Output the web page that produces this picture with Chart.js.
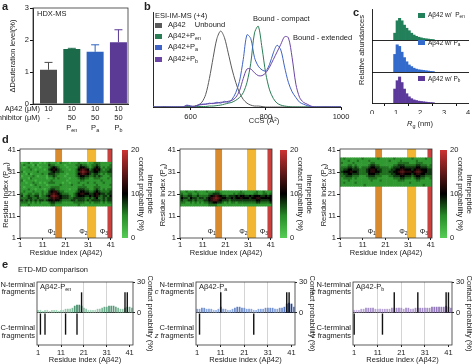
<!DOCTYPE html>
<html><head><meta charset="utf-8">
<script src="https://cdn.jsdelivr.net/npm/chart.js@4.4.1/dist/chart.umd.min.js"></script>
<style>
body{margin:0;background:#fff}
#fig{position:relative;width:474px;height:364px;overflow:hidden;background:#fff;font-family:'Liberation Sans',Arial,sans-serif;color:#222;font-size:7px}
#fig canvas{position:absolute}
.t{position:absolute;white-space:nowrap;line-height:1}
.t sub{font-size:72%;vertical-align:-1.5px;line-height:0}
.sq{position:absolute}
</style></head><body><div id="fig"></div>
<script>
// ---------- data ----------
// a: HDX-MS
const hdxConc = ['10', '10', '10', '10'];
const hdxInhib = ['-', '50', '50', '50'];
const hdxInhibName = ['', 'en', 'a', 'b'];
const hdxVals = [1.07, 1.72, 1.63, 1.93];
const hdxErr = [0.23, 0.02, 0.22, 0.39];

// b: ESI-IM-MS arrival (CCS) distributions
const ccsX = [500,510,520,530,540,550,560,570,580,590,600,610,620,630,640,650,660,670,680,690,700,710,720,730,740,750,760,770,780,790,800,810,820,830,840,850,860,870,880,890,900,910,920,930,940,950,960,970,980,990,1000];
const ccsTicks = [600, 800, 1000];
const ccsAb = [0,0,0,0.005,0,0,0,0,0,0.005, 0.005,0.01,0.02,0.05,0.13,0.3,0.52,0.72,0.8,0.73, 0.57,0.4,0.26,0.15,0.08,0.04,0.02,0.01,0.01,0.005, 0,0,0,0,0,0,0,0,0,0, 0,0,0,0,0,0,0,0,0,0, 0];
const ccsEn = [0,0,0,0,0,0,0,0,0,0.005, 0.005,0.005,0.005,0.005,0.005,0.01,0.01,0.015,0.02,0.03, 0.04,0.05,0.07,0.1,0.15,0.26,0.46,0.78,0.85,0.62, 0.35,0.18,0.09,0.04,0.02,0.01,0.005,0,0,0, 0,0,0,0,0,0,0,0,0,0, 0];
const ccsA = [0,0,0,0,0,0,0,0,0,0.02, 0.01,0.005,0.02,0.03,0.03,0.04,0.035,0.05,0.04,0.06, 0.05,0.08,0.15,0.27,0.5,0.76,0.72,0.52,0.43,0.39, 0.38,0.45,0.57,0.65,0.6,0.42,0.26,0.16,0.1,0.05, 0.03,0.015,0.005,0,0,0,0,0,0,0, 0];
const ccsB = [0,0,0,0,0,0,0,0,0,0.015, 0.01,0.005,0.02,0.025,0.03,0.035,0.04,0.04,0.05,0.05, 0.06,0.07,0.1,0.17,0.3,0.4,0.4,0.36,0.33,0.33, 0.36,0.42,0.5,0.58,0.66,0.74,0.73,0.52,0.24,0.1, 0.05,0.03,0.01,0,0,0,0,0,0,0, 0];

// c: Rg histograms
const rgBins = [0.95,1.05,1.15,1.25,1.35,1.45,1.55,1.65,1.75,1.85,1.95,2.05,2.15,2.25,2.35,2.45,2.55];
const rgEn = [0.22,0.62,0.70,0.62,0.48,0.38,0.30,0.22,0.16,0.12,0.09,0.07,0.05,0.04,0.03,0.02,0.015];
const rgA  = [0.55,0.85,0.80,0.62,0.45,0.32,0.22,0.17,0.12,0.09,0.07,0.06,0.05,0.04,0.03,0.02,0.015];
const rgB  = [0.45,0.72,0.84,0.66,0.45,0.30,0.20,0.14,0.10,0.08,0.06,0.05,0.04,0.03,0.02,0.015,0.01];

// d: interpeptide contact maps, one string per peptide residue (top row first),
// one digit per Aβ42 residue 1..42, digit = contact probability / 2 (%)
const resTicks = [1, 11, 21, 31, 41];
const phiStart = [17, 31, 40];
const phiEnd = [19, 34, 42];
const enTop = 35;
const enRows = [
  '2122312221 2123222132 2212223222 1223332222 22',
  '1232221312 2224332222 1222233433 2233432222 33',
  '2212322221 2223454322 2122224554 3234542323 33',
  '1222232122 2124565432 2212235676 5345653233 43',
  '2312222232 2223454433 2222234787 6445543334 44',
  '2221312222 3224443322 2122235676 5434432323 33',
  '2122223212 2213343222 1222234554 4334343222 33',
  '1222132222 2212232322 2212223443 3223332223 22',
  '2312222122 2222322222 2122222332 2222223222 23',
  '2221223221 2123332221 2212223222 3223222322 22',
  '1222212322 2212222232 2223222232 2222322222 32',
  '2212222223 2222333322 2222223333 2223332222 23',
  '2222322122 2123443322 2212224443 3223432323 33',
  '2232223222 3224566433 2222234554 4334543333 44',
  '3322332332 3234676543 3322345665 5445654434 44',
  '3423433442 3345787654 4432345554 4545643443 54',
  '3333443343 3334676654 4433444443 3434533434 44',
  '4434343434 4345565543 3334434443 4344443434 44',
  '2333232323 2223443332 2222333332 2323332323 33',
  '2222322222 2222332222 2222223222 2222222222 22'
];
const aTop = 22;
const aRows = [
  '2223222322 2232223322 2222222322 2222322322 22',
  '2322332232 2223344432 2222323332 2223322332 33',
  '3433443343 3334567654 4344454554 4545554454 55',
  '3544354434 4345678765 5445455655 5455665555 56',
  '3433443433 3445677654 4434444444 4444554444 55',
  '2332232323 2334455443 2323323333 3333443333 44',
  '2222222222 2223333222 2222222222 2222222222 23'
];
const bTop = 37;
const bRows = [
  '2232222222 3222222322 2222322222 2232222232 22',
  '2222322232 2223222222 2232222322 2222322222 22',
  '2322223222 2222332222 2222223333 3222333222 22',
  '2222332322 2223443322 2222334443 3333443332 33',
  '2333443432 3334554433 3323444554 4444554443 33',
  '3344554443 3345665443 3334455665 5545665554 44',
  '3455565543 3345665543 3344556776 6656776554 44',
  '3344554443 3335554433 3334455665 5545665544 44',
  '2334443332 2234443332 2233444554 4434554433 33',
  '2233332322 2223333222 2222333443 3323443322 33',
  '2222322222 2222322232 2222223332 2222332222 22',
  '2232222322 2222222222 2222222222 2322222222 22',
  '2222222222 2322222222 2222222222 2222222322 22'
];

// e: ETD fragments vs MD contact probability
const resLabels = ['1','2','3','4','5','6','7','8','9','10','11','12','13','14','15','16','17','18','19','20','21','22','23','24','25','26','27','28','29','30','31','32','33','34','35','36','37','38','39','40','41','42'];
const contactEn = [3,3,2,3,3,2,3,3,3,2, 3,3,4,4,4,5,7,8,8,7, 5,4,3,3,3,3,4,4,5,6, 6,7,7,7,6,5,4,4,5,6, 6,5];
const contactA  = [4,4,5,5,4,4,4,3,3,4, 6,4,4,3,3,4,5,6,6,5, 5,4,4,4,3,3,4,4,4,5, 5,5,5,4,4,5,5,6,9,10, 9,6];
const contactB  = [3,3,3,4,4,5,5,5,5,4, 4,4,4,4,4,4,5,5,5,5, 5,4,5,5,4,4,5,5,5,5, 5,5,5,6,6,6,6,6,6,7, 6,5];
const cFragEn = [20, 39, 40], zFragEn = [2, 4, 13, 18];
const cFragA = [11, 39, 40], zFragA = [2, 25];
const cFragB = [18, 28, 40, 41], zFragB = [1, 13];
const cLevel = 20, zLevel = -21;

// ---------- setup ----------
const FONT = "'Liberation Sans', Arial, sans-serif";
Chart.defaults.font.family = FONT;
Chart.defaults.font.size = 7;
Chart.defaults.color = '#222';
const fig = document.getElementById('fig');
const PAD = 14;

function makeChart(area, ax, cfg) {
  const [L, T, R, B] = area;
  const l = ax.l || 0, r = ax.r || 0, b = ax.b || 0;
  const cv = document.createElement('canvas');
  const w = R - L + l + r + 2 * PAD, h = B - T + b + 2 * PAD;
  cv.width = w; cv.height = h;
  cv.style.left = (L - l - PAD) + 'px'; cv.style.top = (T - PAD) + 'px';
  cv.style.width = w + 'px'; cv.style.height = h + 'px';
  fig.appendChild(cv);
  cfg.options = Object.assign({
    responsive: false, animation: false, devicePixelRatio: 1, events: [],
    layout: { padding: PAD },
    plugins: { legend: { display: false }, tooltip: { enabled: false } }
  }, cfg.options);
  const c = new Chart(cv, cfg);
  c.$ox = L - l - PAD; c.$oy = T - PAD;
  return c;
}
const fitW = w => s => { s.width = w; };
const fitH = h => s => { s.height = h; };
const axisLine = { display: true, color: '#111', width: 0.9 };
const noGrid = { display: false, drawTicks: false };
const clear = 'rgba(0,0,0,0)';

const framePlugin = { id: 'frame', afterDatasetsDraw(chart) {
  const { ctx, chartArea: a } = chart;
  ctx.save(); ctx.strokeStyle = '#333'; ctx.lineWidth = 0.8;
  ctx.strokeRect(a.left, a.top, a.right - a.left, a.bottom - a.top);
  ctx.restore();
}};

function hex(h) { return [1, 3, 5].map(i => parseInt(h.slice(i, i + 2), 16)); }
function mix(c1, c2, t) {
  t = Math.max(0, Math.min(1, t));
  const a = hex(c1), b = hex(c2);
  return 'rgb(' + a.map((v, i) => Math.round(v + (b[i] - v) * t)).join(',') + ')';
}

// ---------- a ----------
const hdxColors = ['#4c4c4c', '#1b6b4b', '#2e63c0', '#5a3a95'];
const errPlugin = { id: 'err', afterDatasetsDraw(chart) {
  const y = chart.scales.y, ctx = chart.ctx;
  chart.getDatasetMeta(0).data.forEach((bar, i) => {
    const top = y.getPixelForValue(hdxVals[i] + hdxErr[i]);
    ctx.save(); ctx.strokeStyle = hdxColors[i]; ctx.lineWidth = 1;
    ctx.beginPath();
    ctx.moveTo(bar.x, bar.y); ctx.lineTo(bar.x, top);
    ctx.moveTo(bar.x - 4, top); ctx.lineTo(bar.x + 4, top);
    ctx.stroke(); ctx.restore();
  });
}};
const chartA = makeChart([33, 8, 128, 104], { l: 33, b: 24 }, {
  type: 'bar',
  data: { datasets: [{ data: hdxVals.map((v, i) => ({ x: i, y: v })), backgroundColor: hdxColors, barPercentage: 0.73, categoryPercentage: 1 }] },
  options: { scales: {
    x: { type: 'linear', min: -0.665, max: 3.41, offset: false, afterFit: fitH(24),
      afterBuildTicks: s => { s.ticks = hdxVals.map((_, i) => ({ value: i })); },
      ticks: { autoSkip: false, maxRotation: 0, padding: 0, font: { size: 7.5 }, callback: v => [hdxConc[v], hdxInhib[v]] },
      grid: noGrid, border: axisLine },
    y: { min: 0, max: 3, afterFit: fitW(33), ticks: { stepSize: 1, padding: 1, font: { size: 7.5 } },
      grid: { drawOnChartArea: false, tickLength: 3, color: '#111' }, border: axisLine,
      title: { display: true, text: 'ΔDeuteration level(%)', padding: { top: 8, bottom: 0 }, font: { size: 7.5 } } }
  }},
  plugins: [framePlugin, errPlugin]
});

// ---------- b ----------
const ccsSeries = [
  { name: 'Aβ42', vals: ccsAb, color: '#5a5a5a' },
  { name: 'Aβ42+P<sub>en</sub>', vals: ccsEn, color: '#2a7d55' },
  { name: 'Aβ42+P<sub>a</sub>', vals: ccsA, color: '#3f63c6' },
  { name: 'Aβ42+P<sub>b</sub>', vals: ccsB, color: '#6b45a5' }
];
makeChart([153, 12, 341, 107], { b: 12 }, {
  type: 'line',
  data: { datasets: ccsSeries.slice().reverse().map(s => ({
    data: ccsX.map((x, i) => ({ x, y: s.vals[i] })), borderColor: s.color, borderWidth: 1, pointRadius: 0, tension: 0.3, fill: false })) },
  options: { scales: {
    x: { type: 'linear', min: 500, max: 1000, afterFit: fitH(12),
      afterBuildTicks: s => { s.ticks = ccsTicks.map(v => ({ value: v })); },
      ticks: { padding: 2, font: { size: 7.5 }, callback: v => String(v) },
      grid: { drawOnChartArea: false, tickLength: 3, color: '#111' }, border: axisLine },
    y: { min: 0, max: 1, afterFit: fitW(0), ticks: { display: false }, grid: noGrid, border: axisLine }
  }}
});

// ---------- c ----------
const rgSets = [
  { vals: rgEn, color: '#22805a', name: 'Aβ42 w/&nbsp; P<sub>en</sub>', area: [372, 9, 468, 40] },
  { vals: rgA, color: '#336bcc', name: 'Aβ42 w/ P<sub>a</sub>', area: [372, 40, 468, 72] },
  { vals: rgB, color: '#5c3a9c', name: 'Aβ42 w/ P<sub>b</sub>', area: [372, 72, 468, 103] }
];
rgSets.forEach((s, k) => {
  const last = k === rgSets.length - 1;
  makeChart(s.area, { b: last ? 11 : 0 }, {
    type: 'bar',
    data: { datasets: [{ data: rgBins.map((x, i) => ({ x, y: s.vals[i] })), backgroundColor: s.color, barPercentage: 1, categoryPercentage: 1, borderWidth: 0 }] },
    options: { scales: {
      x: { type: 'linear', min: 0, max: 4, offset: false, afterFit: fitH(last ? 11 : 0),
        ticks: { display: last, stepSize: 1, padding: 2, font: { size: 7.5 } },
        grid: last ? { drawOnChartArea: false, tickLength: 3, color: '#111' } : noGrid, border: axisLine },
      y: { min: 0, max: 1, afterFit: fitW(0), ticks: { display: false }, grid: noGrid, border: axisLine }
    }}
  });
});

// ---------- d ----------
const heatStops = [[0, [85, 205, 85]], [5, [40, 140, 40]], [10, [0, 0, 0]], [20, [205, 50, 50]]];
function heatColor(v) {
  v = Math.max(0, Math.min(20, v));
  for (let i = 1; i < heatStops.length; i++) {
    const [v0, c0] = heatStops[i - 1], [v1, c1] = heatStops[i];
    if (v <= v1) {
      const t = (v - v0) / (v1 - v0);
      return 'rgb(' + c0.map((c, j) => Math.round(c + (c1[j] - c) * t)).join(',') + ')';
    }
  }
}
const phiColors = ['#d98a2f', '#f2b633', '#c9413f'];
const phiPlugin = { id: 'phi', beforeDatasetsDraw(chart) {
  const { ctx, chartArea: a, scales: { x } } = chart;
  ctx.save();
  phiStart.forEach((s, i) => {
    const x0 = x.getPixelForValue(s - 0.5);
    const x1 = Math.min(x.getPixelForValue(phiEnd[i] + 0.5), a.right);
    ctx.fillStyle = phiColors[i];
    ctx.fillRect(x0, a.top, x1 - x0, a.bottom - a.top);
    const ly = a.bottom - 6;
    ctx.fillStyle = '#222'; ctx.textBaseline = 'middle';
    ctx.font = '7px ' + FONT; ctx.textAlign = 'right';
    ctx.fillText('Φ', x0 - 2.2, ly);
    ctx.font = '5px ' + FONT; ctx.textAlign = 'left';
    ctx.fillText(String(i + 1), x0 - 2.2, ly + 2);
  });
  ctx.restore();
}};
function cellRadius(chart) {
  const xs = chart.scales.x;
  if (!xs) return 1.6;
  const w = Math.abs(xs.getPixelForValue(2) - xs.getPixelForValue(1));
  return (w + 0.5) / Math.SQRT2;
}
function heatChart(area, rows, top) {
  const cells = [];
  rows.forEach((row, i) => row.replace(/ /g, '').split('').forEach((ch, j) => cells.push({ x: j + 1, y: top - i, v: Number(ch) * 2 })));
  const tickSet = s => { s.ticks = resTicks.map(v => ({ value: v })); };
  return makeChart(area, { l: 20, b: 20 }, {
    type: 'scatter',
    data: { datasets: [{ data: cells, pointStyle: 'rect', pointRadius: ctx => cellRadius(ctx.chart), pointHoverRadius: ctx => cellRadius(ctx.chart),
      pointBackgroundColor: ctx => heatColor(ctx.raw ? ctx.raw.v : 0), pointBorderWidth: 0 }] },
    options: { scales: {
      x: { type: 'linear', min: 1, max: 41.5, afterBuildTicks: tickSet, afterFit: fitH(20),
        ticks: { padding: 0, font: { size: 7.5 } }, grid: { drawOnChartArea: false, tickLength: 2, color: '#222' }, border: { display: false },
        title: { display: true, text: 'Residue index (Aβ42)', padding: { top: 1, bottom: 1 }, font: { size: 7.5 } } },
      y: { type: 'linear', min: 1, max: 41.5, afterBuildTicks: tickSet, afterFit: fitW(20),
        ticks: { padding: 1, font: { size: 7.5 } }, grid: { drawOnChartArea: false, tickLength: 3, color: '#222' }, border: { display: false } }
    }},
    plugins: [phiPlugin, framePlugin]
  });
}
function cbGradient(chart) {
  const a = chart.chartArea;
  if (!a) return '#000';
  const g = chart.ctx.createLinearGradient(0, a.bottom, 0, a.top);
  heatStops.forEach(([v, c]) => g.addColorStop(v / 20, 'rgb(' + c.join(',') + ')'));
  return g;
}
function colorBar(area) {
  return makeChart(area, { r: 29 }, {
    type: 'bar',
    data: { labels: [''], datasets: [{ data: [[0, 20]], backgroundColor: ctx => cbGradient(ctx.chart), barPercentage: 1, categoryPercentage: 1, borderWidth: 0 }] },
    options: { scales: {
      x: { display: false },
      y: { position: 'right', min: 0, max: 20, afterFit: fitW(29), ticks: { stepSize: 10, padding: 3, font: { size: 7.5 } },
        grid: noGrid, border: { display: false },
        title: { display: true, text: ['Interpeptide', 'contact probability (%)'], padding: { top: 2, bottom: 2 }, font: { size: 7.5 } } }
    }}
  });
}
heatChart([20, 149, 112, 238], enRows, enTop);
colorBar([122, 150, 128, 238]);
heatChart([180, 149, 272, 238], aRows, aTop);
colorBar([280, 150, 287, 238]);
heatChart([340, 149, 432, 238], bRows, bTop);
colorBar([440, 150, 447, 238]);

// ---------- e ----------
function etdChart(area, contact, cFrag, zFrag, light, dark) {
  const frag = resLabels.map((_, i) => cFrag.includes(i + 1) ? cLevel : (zFrag.includes(i + 1) ? zLevel : null));
  return makeChart(area, { r: 24, b: 20 }, {
    type: 'bar',
    data: { labels: resLabels, datasets: [
      { data: frag, backgroundColor: '#111', barPercentage: 0.6, categoryPercentage: 1, grouped: false },
      { data: contact, backgroundColor: ctx => mix(light, dark, (ctx.raw - 3) / 6), barPercentage: 0.75, categoryPercentage: 1, grouped: false }
    ]},
    options: { scales: {
      x: { afterFit: fitH(20),
        ticks: { autoSkip: false, maxRotation: 0, padding: 1, font: { size: 7.5 }, callback: (v, i) => i % 10 === 0 ? resLabels[i] : '' },
        grid: { offset: false, tickLength: 2, color: ctx => [10, 20, 30].includes(ctx.index) ? '#d4d4d4' : clear,
          tickColor: ctx => ctx.index % 10 === 0 ? '#222' : clear },
        border: { display: false },
        title: { display: true, text: 'Residue index (Aβ42)', padding: { top: 1, bottom: 1 }, font: { size: 7.5 } } },
      y: { position: 'right', min: -31, max: 30, afterFit: fitW(24),
        afterBuildTicks: s => { s.ticks = [{ value: 0 }, { value: 30 }]; },
        ticks: { padding: 2, font: { size: 7.5 } },
        grid: { color: ctx => ctx.tick && ctx.tick.value === 0 ? '#222' : clear, tickColor: '#222', tickLength: 2 },
        border: { display: false },
        title: { display: true, text: 'Contact probability (%)', padding: { top: 2, bottom: 2 }, font: { size: 7.5 } } }
    }},
    plugins: [framePlugin]
  });
}
etdChart([37, 282, 133, 345], contactEn, cFragEn, zFragEn, '#a8d8bd', '#2a7a54');
etdChart([196, 282, 295, 345], contactA, cFragA, zFragA, '#9db9ea', '#1d3f94');
etdChart([353, 282, 452, 345], contactB, cFragB, zFragB, '#cdb9e6', '#5a3a8e');

// ---------- text ----------
function txt(x, y, html, o = {}) {
  const d = document.createElement('div');
  d.className = 't';
  d.innerHTML = html;
  const tx = { l: '0', c: '-50%', r: '-100%' }[o.a || 'l'];
  d.style.left = x + 'px'; d.style.top = y + 'px';
  d.style.transform = `translate(${tx},-50%)` + (o.rot ? ` rotate(${o.rot}deg)` : '');
  if (o.size) d.style.fontSize = o.size + 'px';
  if (o.bold) d.style.fontWeight = 'bold';
  fig.appendChild(d);
}
function sq(x, y, w, h, color) {
  const d = document.createElement('div');
  d.className = 'sq';
  d.style.cssText = `left:${x}px;top:${y}px;width:${w}px;height:${h}px;background:${color}`;
  fig.appendChild(d);
}
// a
txt(2, 6, 'a', { bold: 1, size: 11 });
txt(37, 14, 'HDX-MS', { size: 7.5 });
txt(40, 108.5, 'Aβ42 (μM)', { a: 'r', size: 7.5 });
txt(40, 117.5, 'Inhibitor (μM)', { a: 'r', size: 7.5 });
chartA.getDatasetMeta(0).data.forEach((bar, i) => {
  if (hdxInhibName[i]) txt(bar.x + chartA.$ox, 128, 'P<sub>' + hdxInhibName[i] + '</sub>', { a: 'c', size: 7.5 });
});
// b
txt(144, 6, 'b', { bold: 1, size: 11 });
txt(155, 16, 'ESI-IM-MS (+4)', { size: 7.5 });
ccsSeries.forEach((s, i) => {
  const y = [25, 36, 47, 59][i];
  sq(155, y - 2.5, 7, 5, s.color);
  txt(168, y, s.name, { size: 7.5 });
});
txt(210, 25, 'Unbound', { a: 'c', size: 7.5 });
txt(253, 19, 'Bound - compact', { size: 7.5 });
txt(293, 38, 'Bound - extended', { size: 7.5 });
txt(264, 121, 'CCS (Å²)', { a: 'c', size: 7.5 });
// c
txt(353, 12, 'c', { bold: 1, size: 11 });
rgSets.forEach((s, i) => {
  const y = [15, 42.5, 78.5][i];
  sq(418, y - 2.5, 7, 5, s.color);
  txt(428, y, s.name, { size: 6.5 });
});
txt(420, 124, '<i>R</i><sub>g</sub> (nm)', { a: 'c', size: 7.5 });
txt(362, 50, 'Relative abundances', { a: 'c', rot: -90, size: 7.5 });
// d
txt(2, 139, 'd', { bold: 1, size: 11 });
txt(6, 195, 'Residue index (P<sub>en</sub>)', { a: 'c', rot: -90, size: 7.5 });
txt(163, 195, 'Residue index (P<sub>a</sub>)', { a: 'c', rot: -90, size: 7.5 });
txt(324, 195, 'Residue index (P<sub>b</sub>)', { a: 'c', rot: -90, size: 7.5 });
// e
txt(2, 264, 'e', { bold: 1, size: 11 });
txt(18, 270, 'ETD-MD comparison', { size: 7.5 });
[[35, 40, 'en'], [194, 199, 'a'], [351, 356, 'b']].forEach(([rx, lx, p]) => {
  txt(rx, 284.5, 'N-terminal', { a: 'r', size: 7.5 });
  txt(rx, 292, '<i>c</i> fragments', { a: 'r', size: 7.5 });
  txt(rx, 328, 'C-terminal', { a: 'r', size: 7.5 });
  txt(rx, 335.5, '<i>z</i> fragments', { a: 'r', size: 7.5 });
  txt(lx, 287, 'Aβ42-P<sub>' + p + '</sub>', { size: 7.5 });
});
</script></body></html>
